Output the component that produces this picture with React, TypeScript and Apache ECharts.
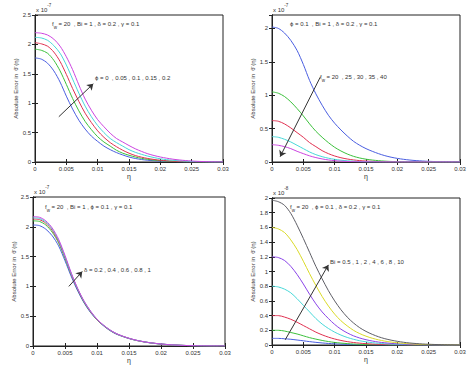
import React, { useEffect, useRef } from "react";
import * as echarts from "echarts";

// eta sample points
const ETA = [
  0, 0.001, 0.002, 0.003, 0.004, 0.005, 0.006, 0.007, 0.008, 0.009, 0.01,
  0.011, 0.012, 0.013, 0.014, 0.015, 0.016, 0.017, 0.018, 0.019, 0.02,
  0.021, 0.022, 0.023, 0.024, 0.025, 0.026, 0.027, 0.028, 0.029, 0.03,
];

// Panel 1: phi = 0, 0.05, 0.1, 0.15, 0.2
const P1_PHI_0 = [1.77, 1.75, 1.68, 1.55, 1.36, 1.12, 0.9, 0.71, 0.56, 0.44, 0.35, 0.27, 0.21, 0.16, 0.12, 0.085, 0.06, 0.042, 0.03, 0.021, 0.015, 0.01, 0.007, 0.005, 0.003, 0.002, 0.001, 0.001, 0, 0, 0];
const P1_PHI_005 = [1.92, 1.9, 1.85, 1.73, 1.55, 1.32, 1.08, 0.87, 0.69, 0.55, 0.43, 0.34, 0.27, 0.2, 0.15, 0.115, 0.085, 0.062, 0.045, 0.032, 0.022, 0.015, 0.01, 0.007, 0.004, 0.003, 0.002, 0.001, 0.001, 0, 0];
const P1_PHI_01 = [2.03, 2.01, 1.97, 1.87, 1.71, 1.49, 1.25, 1.03, 0.83, 0.67, 0.53, 0.42, 0.33, 0.26, 0.2, 0.15, 0.11, 0.082, 0.06, 0.043, 0.03, 0.021, 0.014, 0.009, 0.006, 0.004, 0.003, 0.002, 0.001, 0.001, 0];
const P1_PHI_015 = [2.12, 2.11, 2.07, 1.98, 1.85, 1.65, 1.41, 1.17, 0.95, 0.77, 0.62, 0.5, 0.4, 0.33, 0.27, 0.21, 0.165, 0.13, 0.1, 0.075, 0.055, 0.04, 0.029, 0.02, 0.014, 0.009, 0.006, 0.004, 0.002, 0.001, 0.001];
const P1_PHI_02 = [2.2, 2.19, 2.16, 2.09, 1.97, 1.79, 1.57, 1.31, 1.07, 0.88, 0.72, 0.6, 0.49, 0.4, 0.34, 0.28, 0.225, 0.18, 0.14, 0.11, 0.085, 0.065, 0.048, 0.035, 0.025, 0.017, 0.011, 0.007, 0.004, 0.002, 0.001];

// Panel 2: fw = 20, 25, 30, 35, 40
const P2_FW_20 = [2.02, 2.0, 1.93, 1.82, 1.67, 1.46, 1.22, 1.02, 0.85, 0.7, 0.58, 0.48, 0.39, 0.31, 0.25, 0.2, 0.16, 0.125, 0.095, 0.072, 0.054, 0.04, 0.029, 0.021, 0.015, 0.01, 0.007, 0.005, 0.003, 0.002, 0.001];
const P2_FW_25 = [1.05, 1.03, 0.98, 0.9, 0.8, 0.69, 0.57, 0.46, 0.37, 0.29, 0.22, 0.165, 0.12, 0.085, 0.06, 0.042, 0.029, 0.02, 0.013, 0.008, 0.005, 0.003, 0.002, 0.001, 0, 0, 0, 0, 0, 0, 0];
const P2_FW_30 = [0.62, 0.61, 0.57, 0.51, 0.44, 0.37, 0.29, 0.23, 0.17, 0.125, 0.09, 0.064, 0.045, 0.031, 0.021, 0.014, 0.009, 0.006, 0.004, 0.002, 0.001, 0, 0, 0, 0, 0, 0, 0, 0, 0, 0];
const P2_FW_35 = [0.38, 0.37, 0.34, 0.3, 0.25, 0.2, 0.15, 0.11, 0.08, 0.057, 0.04, 0.027, 0.018, 0.012, 0.007, 0.004, 0.002, 0.001, 0, 0, 0, 0, 0, 0, 0, 0, 0, 0, 0, 0, 0];
const P2_FW_40 = [0.26, 0.25, 0.23, 0.2, 0.16, 0.125, 0.092, 0.066, 0.046, 0.031, 0.02, 0.013, 0.008, 0.005, 0.003, 0.002, 0.001, 0, 0, 0, 0, 0, 0, 0, 0, 0, 0, 0, 0, 0, 0];

// Panel 3: delta = 0.2, 0.4, 0.6, 0.8, 1
const P3_D_02 = [2.03, 2.02, 1.96, 1.85, 1.68, 1.43, 1.16, 0.92, 0.72, 0.56, 0.44, 0.34, 0.26, 0.2, 0.16, 0.125, 0.097, 0.075, 0.057, 0.043, 0.032, 0.023, 0.017, 0.012, 0.008, 0.005, 0.003, 0.002, 0.001, 0.001, 0];
const P3_D_04 = [2.1, 2.09, 2.03, 1.91, 1.73, 1.47, 1.19, 0.94, 0.73, 0.57, 0.44, 0.345, 0.265, 0.205, 0.162, 0.127, 0.098, 0.076, 0.058, 0.044, 0.033, 0.024, 0.017, 0.012, 0.008, 0.005, 0.003, 0.002, 0.001, 0.001, 0];
const P3_D_06 = [2.13, 2.12, 2.06, 1.94, 1.75, 1.49, 1.2, 0.95, 0.74, 0.575, 0.445, 0.348, 0.268, 0.207, 0.164, 0.128, 0.099, 0.077, 0.059, 0.045, 0.033, 0.024, 0.017, 0.012, 0.008, 0.005, 0.003, 0.002, 0.001, 0.001, 0];
const P3_D_08 = [2.15, 2.14, 2.08, 1.96, 1.77, 1.5, 1.21, 0.955, 0.745, 0.58, 0.448, 0.35, 0.27, 0.209, 0.165, 0.129, 0.1, 0.078, 0.06, 0.045, 0.034, 0.025, 0.018, 0.012, 0.008, 0.005, 0.003, 0.002, 0.001, 0.001, 0];
const P3_D_1 = [2.17, 2.16, 2.1, 1.98, 1.79, 1.52, 1.22, 0.96, 0.75, 0.585, 0.45, 0.352, 0.272, 0.21, 0.166, 0.13, 0.101, 0.078, 0.06, 0.046, 0.034, 0.025, 0.018, 0.012, 0.008, 0.005, 0.003, 0.002, 0.001, 0.001, 0];

// Panel 4: Bi = 0.5, 1, 2, 4, 6, 8, 10
const P4_BI_05 = [0.09, 0.09, 0.085, 0.078, 0.068, 0.057, 0.046, 0.036, 0.028, 0.021, 0.016, 0.012, 0.009, 0.006, 0.004, 0.003, 0.002, 0.001, 0.001, 0, 0, 0, 0, 0, 0, 0, 0, 0, 0, 0, 0];
const P4_BI_1 = [0.2, 0.2, 0.19, 0.17, 0.15, 0.125, 0.1, 0.08, 0.062, 0.047, 0.035, 0.026, 0.019, 0.013, 0.009, 0.006, 0.004, 0.003, 0.002, 0.001, 0.001, 0, 0, 0, 0, 0, 0, 0, 0, 0, 0];
const P4_BI_2 = [0.4, 0.4, 0.38, 0.35, 0.31, 0.265, 0.22, 0.175, 0.138, 0.107, 0.082, 0.062, 0.046, 0.034, 0.025, 0.018, 0.013, 0.009, 0.006, 0.004, 0.003, 0.002, 0.001, 0.001, 0, 0, 0, 0, 0, 0, 0];
const P4_BI_4 = [0.8, 0.79, 0.76, 0.71, 0.63, 0.54, 0.45, 0.36, 0.285, 0.225, 0.175, 0.135, 0.103, 0.078, 0.058, 0.043, 0.032, 0.023, 0.017, 0.012, 0.009, 0.006, 0.004, 0.003, 0.002, 0.001, 0.001, 0, 0, 0, 0];
const P4_BI_6 = [1.2, 1.19, 1.15, 1.07, 0.96, 0.83, 0.69, 0.56, 0.45, 0.36, 0.28, 0.215, 0.165, 0.125, 0.095, 0.072, 0.054, 0.04, 0.03, 0.022, 0.016, 0.012, 0.008, 0.006, 0.004, 0.003, 0.002, 0.001, 0.001, 0, 0];
const P4_BI_8 = [1.6, 1.58, 1.53, 1.43, 1.3, 1.14, 0.97, 0.81, 0.66, 0.53, 0.42, 0.33, 0.26, 0.2, 0.155, 0.12, 0.092, 0.07, 0.053, 0.04, 0.03, 0.022, 0.016, 0.011, 0.008, 0.006, 0.004, 0.003, 0.002, 0.001, 0.001];
const P4_BI_10 = [1.97, 1.95, 1.9, 1.79, 1.63, 1.45, 1.26, 1.07, 0.9, 0.74, 0.6, 0.48, 0.38, 0.3, 0.235, 0.185, 0.145, 0.112, 0.086, 0.066, 0.05, 0.037, 0.027, 0.02, 0.014, 0.01, 0.007, 0.005, 0.003, 0.002, 0.001];

const BLUE = "#4a5ee0";
const GREEN = "#3cc03c";
const RED = "#e03050";
const CYAN = "#48d8d8";
const MAGENTA = "#cc44e0";
const VIOLET = "#8a44e8";
const YELLOW = "#dada28";
const GRAY = "#5e5e66";

const FONT = "Liberation Sans";
const TXT = "#333";

type Panel = {
  grid: { left: number; top: number; width: number; height: number };
  ymax: number;
  yint: number;
  curves: number[][];
  colors: string[];
  arrow: [number, number, number, number];
};

const PANELS: Panel[] = [
  {
    grid: { left: 35, top: 15, width: 188, height: 147 },
    ymax: 2.5, yint: 0.5,
    curves: [P1_PHI_0, P1_PHI_005, P1_PHI_01, P1_PHI_015, P1_PHI_02],
    colors: [BLUE, GREEN, RED, CYAN, MAGENTA],
    arrow: [0.0038, 0.77, 0.0093, 1.33],
  },
  {
    grid: { left: 272, top: 15, width: 188, height: 147 },
    ymax: 2.2, yint: 0.5,
    curves: [P2_FW_20, P2_FW_25, P2_FW_30, P2_FW_35, P2_FW_40],
    colors: [BLUE, GREEN, RED, CYAN, MAGENTA],
    arrow: [0.0077, 1.27, 0.0013, 0.08],
  },
  {
    grid: { left: 33, top: 197, width: 192, height: 149 },
    ymax: 2.5, yint: 0.5,
    curves: [P3_D_02, P3_D_04, P3_D_06, P3_D_08, P3_D_1],
    colors: [BLUE, GREEN, RED, CYAN, MAGENTA],
    arrow: [0.0056, 1.0, 0.0077, 1.25],
  },
  {
    grid: { left: 272, top: 198, width: 188, height: 147 },
    ymax: 2.0, yint: 0.2,
    curves: [P4_BI_05, P4_BI_1, P4_BI_2, P4_BI_4, P4_BI_6, P4_BI_8, P4_BI_10],
    colors: [BLUE, GREEN, RED, CYAN, VIOLET, YELLOW, GRAY],
    arrow: [0.0021, 0.07, 0.009, 1.09],
  },
];

const EXPONENTS = ["-7", "-7", "-7", "-8"];

function buildOption() {
  const grid: any[] = [];
  const xAxis: any[] = [];
  const yAxis: any[] = [];
  const series: any[] = [];
  PANELS.forEach((p, i) => {
    grid.push({ ...p.grid, show: true, borderColor: "#222", borderWidth: 1, backgroundColor: "#fff" });
    const lab = { fontSize: 6, color: TXT, fontFamily: FONT, margin: 4 };
    const axLine = { show: true, lineStyle: { color: "#222", width: 1 } };
    const tick = { show: true, inside: true, length: 3, lineStyle: { color: "#222" } };
    xAxis.push({
      type: "value", gridIndex: i, min: 0, max: 0.03, interval: 0.005,
      axisLine: axLine, axisTick: tick, splitLine: { show: false },
      axisLabel: { ...lab, showMaxLabel: true },
    });
    xAxis.push({
      type: "value", gridIndex: i, min: 0, max: 0.03, interval: 0.005, position: "top",
      axisLine: axLine, axisTick: tick, splitLine: { show: false }, axisLabel: { show: false },
    });
    yAxis.push({
      type: "value", gridIndex: i, min: 0, max: p.ymax, interval: p.yint,
      axisLine: axLine, axisTick: tick, splitLine: { show: false },
      axisLabel: { ...lab, showMaxLabel: p.ymax === 2.2 ? false : true },
      name: "Absolute Error in  θ̄ (η)", nameLocation: "middle", nameRotate: 90, nameGap: 15,
      nameTextStyle: { fontSize: 6, color: TXT, fontFamily: FONT },
    });
    yAxis.push({
      type: "value", gridIndex: i, min: 0, max: p.ymax, interval: p.yint, position: "right",
      axisLine: axLine, axisTick: tick, splitLine: { show: false }, axisLabel: { show: false },
    });
    p.curves.forEach((c, k) => {
      const s: any = {
        type: "line",
        xAxisIndex: i * 2,
        yAxisIndex: i * 2,
        data: ETA.map((x, j) => [x, c[j]]),
        smooth: 0.3,
        showSymbol: false,
        symbol: "none",
        lineStyle: { color: p.colors[k], width: 1 },
        z: 2,
      };
      if (k === 0) {
        s.markLine = {
          silent: true,
          symbol: ["none", "arrow"],
          symbolSize: 6,
          label: { show: false },
          lineStyle: { color: "#333", width: 1, type: "solid" },
          data: [[{ coord: [p.arrow[0], p.arrow[1]] }, { coord: [p.arrow[2], p.arrow[3]] }]],
        };
      }
      series.push(s);
    });
  });

  const rich = {
    n: { fontSize: 6, fontFamily: FONT, fill: TXT },
    s: { fontSize: 4.5, fontFamily: FONT, fill: TXT, verticalAlign: "bottom", padding: [0, 0, -3, 0] },
    e: { fontSize: 4.5, fontFamily: FONT, fill: TXT, verticalAlign: "top", padding: [-4, 0, 0, 0] },
  };
  const txt = (x: number, y: number, text: string, align = "left", size = 6) => ({
    type: "text", x, y, z: 10,
    style: { text, fontSize: size, fontFamily: FONT, fill: TXT, rich, verticalAlign: "middle", align },
  });

  const graphic: any[] = [
    txt(52, 24, "{n|f}{s|w}{n| = 20  , Bi = 1 , δ = 0.2 , γ = 0.1}"),
    txt(95, 78, "ϕ = 0  , 0.05 , 0.1 , 0.15 , 0.2"),
    txt(290, 24, "ϕ = 0.1  , Bi = 1 , δ = 0.2 , γ = 0.1"),
    txt(320, 77, "{n|f}{s|w}{n| = 20  , 25 , 30 , 35 , 40}"),
    txt(45, 207, "{n|f}{s|w}{n| = 20  , Bi = 1 , ϕ = 0.1 , γ = 0.1}"),
    txt(84, 270, "δ = 0.2 , 0.4 , 0.6 , 0.8 , 1"),
    txt(290, 207, "{n|f}{s|w}{n| = 20  , ϕ = 0.1 , δ = 0.2 , γ = 0.1}"),
    txt(330, 262, "Bi = 0.5 , 1 , 2 , 4 , 6 , 8 , 10"),
  ];
  PANELS.forEach((p, i) => {
    graphic.push(txt(p.grid.left + 1, p.grid.top - 5, `{n|x 10}{e|${EXPONENTS[i]}}`));
    graphic.push(txt(p.grid.left + p.grid.width / 2, p.grid.top + p.grid.height + 14, "η", "center", 7));
  });

  return {
    animation: false,
    backgroundColor: "#fff",
    grid,
    xAxis,
    yAxis,
    series,
    graphic,
  };
}

export default function App() {
  const ref = useRef<HTMLDivElement>(null);
  useEffect(() => {
    if (!ref.current) return;
    const chart = echarts.init(ref.current, undefined, { renderer: "svg" });
    chart.setOption(buildOption() as any);
    return () => chart.dispose();
  }, []);
  return (
    <div
      ref={ref}
      style={{ position: "absolute", left: 0, top: 0, width: 474, height: 367, background: "#fff" }}
    />
  );
}
